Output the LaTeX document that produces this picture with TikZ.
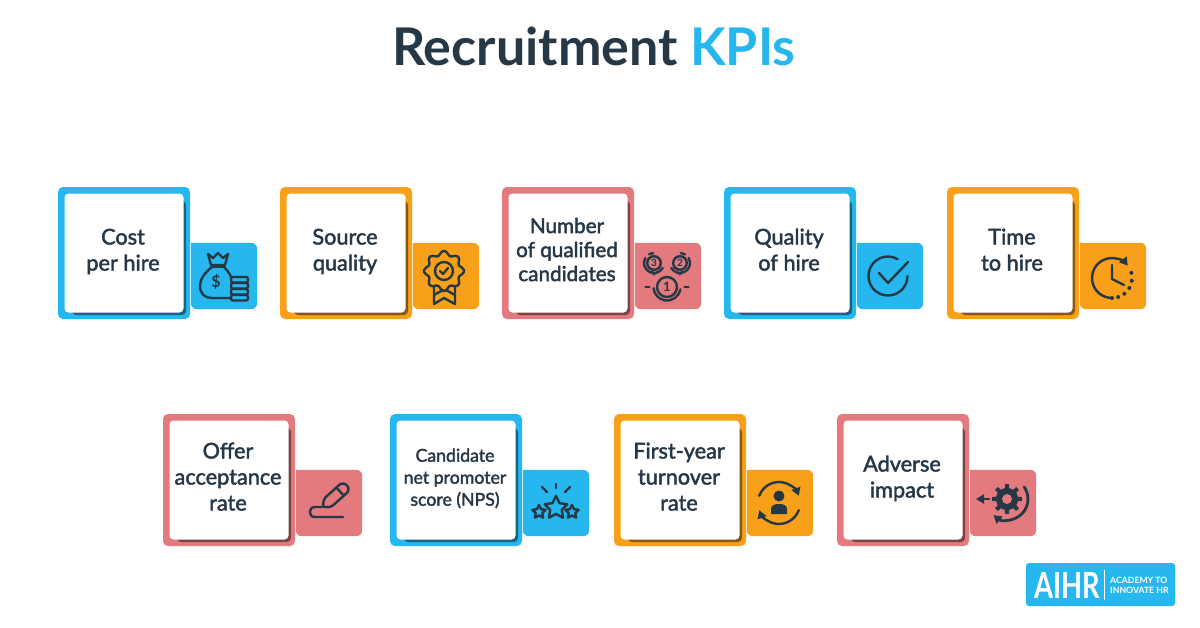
\documentclass[tikz,border=0pt]{standalone}
\usepackage{fontspec}
\setmainfont{Lato}
\newfontfamily\cardfont[FakeBold=2]{Lato}
\usetikzlibrary{arrows.meta}
\definecolor{kpidark}{HTML}{263746}
\definecolor{kpiblue}{HTML}{25B7EE}
\definecolor{kpiorange}{HTML}{F8A01A}
\definecolor{kpipink}{HTML}{E27A7E}
\newcommand{\kpistar}[4]{\draw[icon,fill=#4] plot[samples at={0,...,9}]
  ({#1+(mod(\x,2)==0?#3:0.5*#3)*cos(-90+36*\x)},{#2+(mod(\x,2)==0?#3:0.5*#3)*sin(-90+36*\x)}) -- cycle;}
\tikzset{
  icon/.style={draw=kpidark,line width=2.4pt,line cap=round,line join=round},
  tiphead/.style={-{Triangle[length=8pt,width=9pt]}},
  iconnum/.style={inner sep=0pt,text=kpidark,font=\bfseries\fontsize{#1}{#1}\selectfont},
  pics/moneybag/.style={code={
    \draw[icon] (-16,-22) -- (-11,-18) -- (-6,-23) -- (-1,-18) -- (4,-22) -- (1,-11) -- (-13,-11) -- cycle;
    \draw[icon] (-13,-9) -- (1,-9);
    \draw[icon] (-12,-9) .. controls (-20,-3) and (-24,4) .. (-24,10)
      .. controls (-24,18) and (-19,22) .. (-12,22) -- (7,22);
    \draw[icon] (0,-9) .. controls (3,-6) and (6,-2) .. (7,1);
    \node[iconnum=16] (dollar) at (-8,6) {\$};
    \foreach \k in {0,1,2,3}
      \draw[icon,rounded corners=2pt] (7,1+6*\k) rectangle (24,6.5+6*\k);
  }},
  pics/rosette/.style={code={
    \draw[icon] plot[domain=0:360,samples=97] ({-2+(18+2*cos(8*\x))*cos(\x)},{-5+(18+2*cos(8*\x))*sin(\x)}) -- cycle;
    \draw[icon] (-2,-5) circle (9);
    \draw[icon] (-6,-5) -- (-3,-2) -- (2,-8);
    \draw[icon] (-12,11) -- (-12,28) -- (-2,22) -- (9,28) -- (9,11);
    \draw[icon] (-12,19) -- (-3,14);
    \draw[icon] (9,19) -- (0,14);
  }},
  pics/medals/.style={code={
    \draw[icon] (-1,11) circle (10);
    \draw[icon] (-1,11) ++(10:13.5) arc (10:175:13.5);
    \draw[icon] (-14,-13) circle (6.8);
    \draw[icon] (-14,-13) ++(30:10) arc (30:210:10);
    \draw[icon] (-14,-13) ++(240:10) arc (240:265:10);
    \draw[icon] (12,-13) circle (6.8);
    \draw[icon] (12,-13) ++(-30:10) arc (-30:150:10);
    \draw[icon] (12,-13) ++(300:10) arc (300:275:10);
    \node[iconnum=13] (numone) at (-1,11) {1};
    \node[iconnum=10] (numtwo) at (12,-13) {2};
    \node[iconnum=10] (numthree) at (-14,-13) {3};
    \foreach \a in {0,180,225,315}
      \draw[icon] (-1,11) ++(\a:17.5) -- ++(\a:4);
  }},
  pics/checkring/.style={code={
    \draw[icon] (-2,0) ++(0:19.5) arc (0:300:19.5);
    \draw[icon] (-11,-3) -- (-2,7) -- (18,-14);
  }},
  pics/clockface/.style={code={
    \draw[icon,tiphead] (-1,2) ++(95:20) arc (95:322:20);
    \foreach \a in {345,8,30,52,72,90}
      \fill[kpidark] (-1,2) ++(\a:20) circle (2);
    \draw[icon] (-1,-11) -- (-1,3) -- (11,9);
  }},
  pics/pencil/.style={code={
    \draw[icon] (14,14) -- (-14,14) .. controls (-21,14) and (-21,4) .. (-14,4) -- (-7,4);
    \begin{scope}[shift={(-6,4)},rotate=42]
      \draw[icon,rounded corners=2pt] (0,0) -- (6,5.5) -- (30,5.5) -- (33,0) -- (30,-5.5) -- (6,-5.5) -- cycle;
      \draw[icon] (23,-5.5) -- (23,5.5);
    \end{scope}
  }},
  pics/threestars/.style={code={
    \kpistar{-17}{9}{7}{kpiblue}
    \kpistar{16}{9}{7}{kpiblue}
    \kpistar{0}{5}{12}{kpiblue}
    \draw[icon] (0,-19) -- (0,-15);
    \draw[icon] (-14,-16) -- (-9,-11);
    \draw[icon] (14,-16) -- (9,-11);
  }},
  pics/turnover/.style={code={
    \draw[icon,tiphead] (-1,0) ++(200:21) arc (200:340:21);
    \draw[icon,tiphead] (-1,0) ++(20:21) arc (20:160:21);
    \fill[kpidark] (-1,-7) circle (5.5);
    \fill[kpidark] (-9,11) -- (-9,6) .. controls (-9,2) and (-5,1) .. (-1,1)
      .. controls (3,1) and (7,2) .. (7,6) -- (7,11) -- cycle;
  }},
  pics/gearback/.style={code={
    \fill[kpidark] plot[domain=0:360,samples=97] ({4+(cos(8*\x)>0?15:11)*cos(\x)},{-4+(cos(8*\x)>0?15:11)*sin(\x)}) -- cycle;
    \fill[kpipink] (4,-4) circle (5);
    \draw[icon,line width=2.8pt,tiphead] (4,-4) ++(-35:21) arc (-35:130:21);
    \draw[icon,line width=2.8pt,tiphead] (-14,-4) -- (-27,-4);
  }},
}
\begin{document}
\begin{tikzpicture}[x=1pt,y=-1pt,
  cardface/.style={fill=white,rounded corners=4pt,minimum size=119pt,inner sep=0pt},
  cardtext/.style={inner sep=0pt,align=center,text=kpidark},
  cardback/.style={rounded corners=5pt,minimum size=132pt,inner sep=0pt},
  cardshadow/.style={rounded corners=4pt,minimum size=114pt,inner sep=0pt},
  tabbox/.style={minimum size=66pt,inner sep=0pt}]
\useasboundingbox (0,0) rectangle (1200,627);

\node[font=\bfseries\fontsize{52}{52}\selectfont,text=kpidark,inner sep=0pt] (title) at (594,46)
  {Recruitment \textcolor{kpiblue}{KPIs}};

% top and bottom row of cards
\foreach \n/\x/\y/\c/\s/\l/\i/\t in {
  1/124/253/kpiblue/21.7/26/moneybag/{Cost\\per hire},
  2/346/253/kpiorange/21.7/26/rosette/{Source\\quality},
  3/568/253/kpipink/20.7/24/medals/{Number\\of qualified\\candidates},
  4/790/253/kpiblue/21.7/26/checkring/{Quality\\of hire},
  5/1013/253/kpiorange/21.7/26/clockface/{Time\\to hire},
  6/229/480/kpipink/21.7/26/pencil/{Offer\\acceptance\\rate},
  7/456/480/kpiblue/17.7/22/threestars/{Candidate\\net promoter\\score (NPS)},
  8/680/480/kpiorange/21.7/26/turnover/{First-year\\turnover\\rate},
  9/903/480/kpipink/21.7/26/gearback/{Adverse\\impact}}{
\node[cardback,fill=\c] (back\n) at (\x,\y) {};
\node[tabbox] (tab\n) at ([shift={(100,23)}]back\n.center) {};
\fill[\c] (tab\n.south west) -- (tab\n.north west) [rounded corners=6pt] -- (tab\n.north east)
  -- (tab\n.south east) -- (tab\n.south west) [sharp corners] -- cycle;
\node[cardshadow,fill=\c!55!black] (shade\n) at ([shift={(5,5)}]back\n.center) {};
\node[cardface] (card\n) at (back\n) {};
\node[cardtext,font=\cardfont\fontsize{\s}{\l}\selectfont] (label\n) at ([shift={(-1,-0.7)}]card\n.center) {\strut\t\strut};
\pic at (tab\n) {\i};
}

% logo
\node[fill=kpiblue,rounded corners=3pt,minimum width=149pt,minimum height=43pt,inner sep=0pt] (logo) at (1100.5,584.5) {};
\node[anchor=west,inner sep=0pt,text=white,xscale=0.76,font=\bfseries\fontsize{36}{36}\selectfont] (aihr) at (1034,585) {AIHR};
\node[anchor=west,inner sep=0pt,align=left,text=white,font=\bfseries\fontsize{8.7}{10}\selectfont] (motto) at (1110,585) {ACADEMY TO\\INNOVATE HR};
\draw[white,line width=1pt] (1104,570) -- (1104,600);
\end{tikzpicture}
\end{document}
